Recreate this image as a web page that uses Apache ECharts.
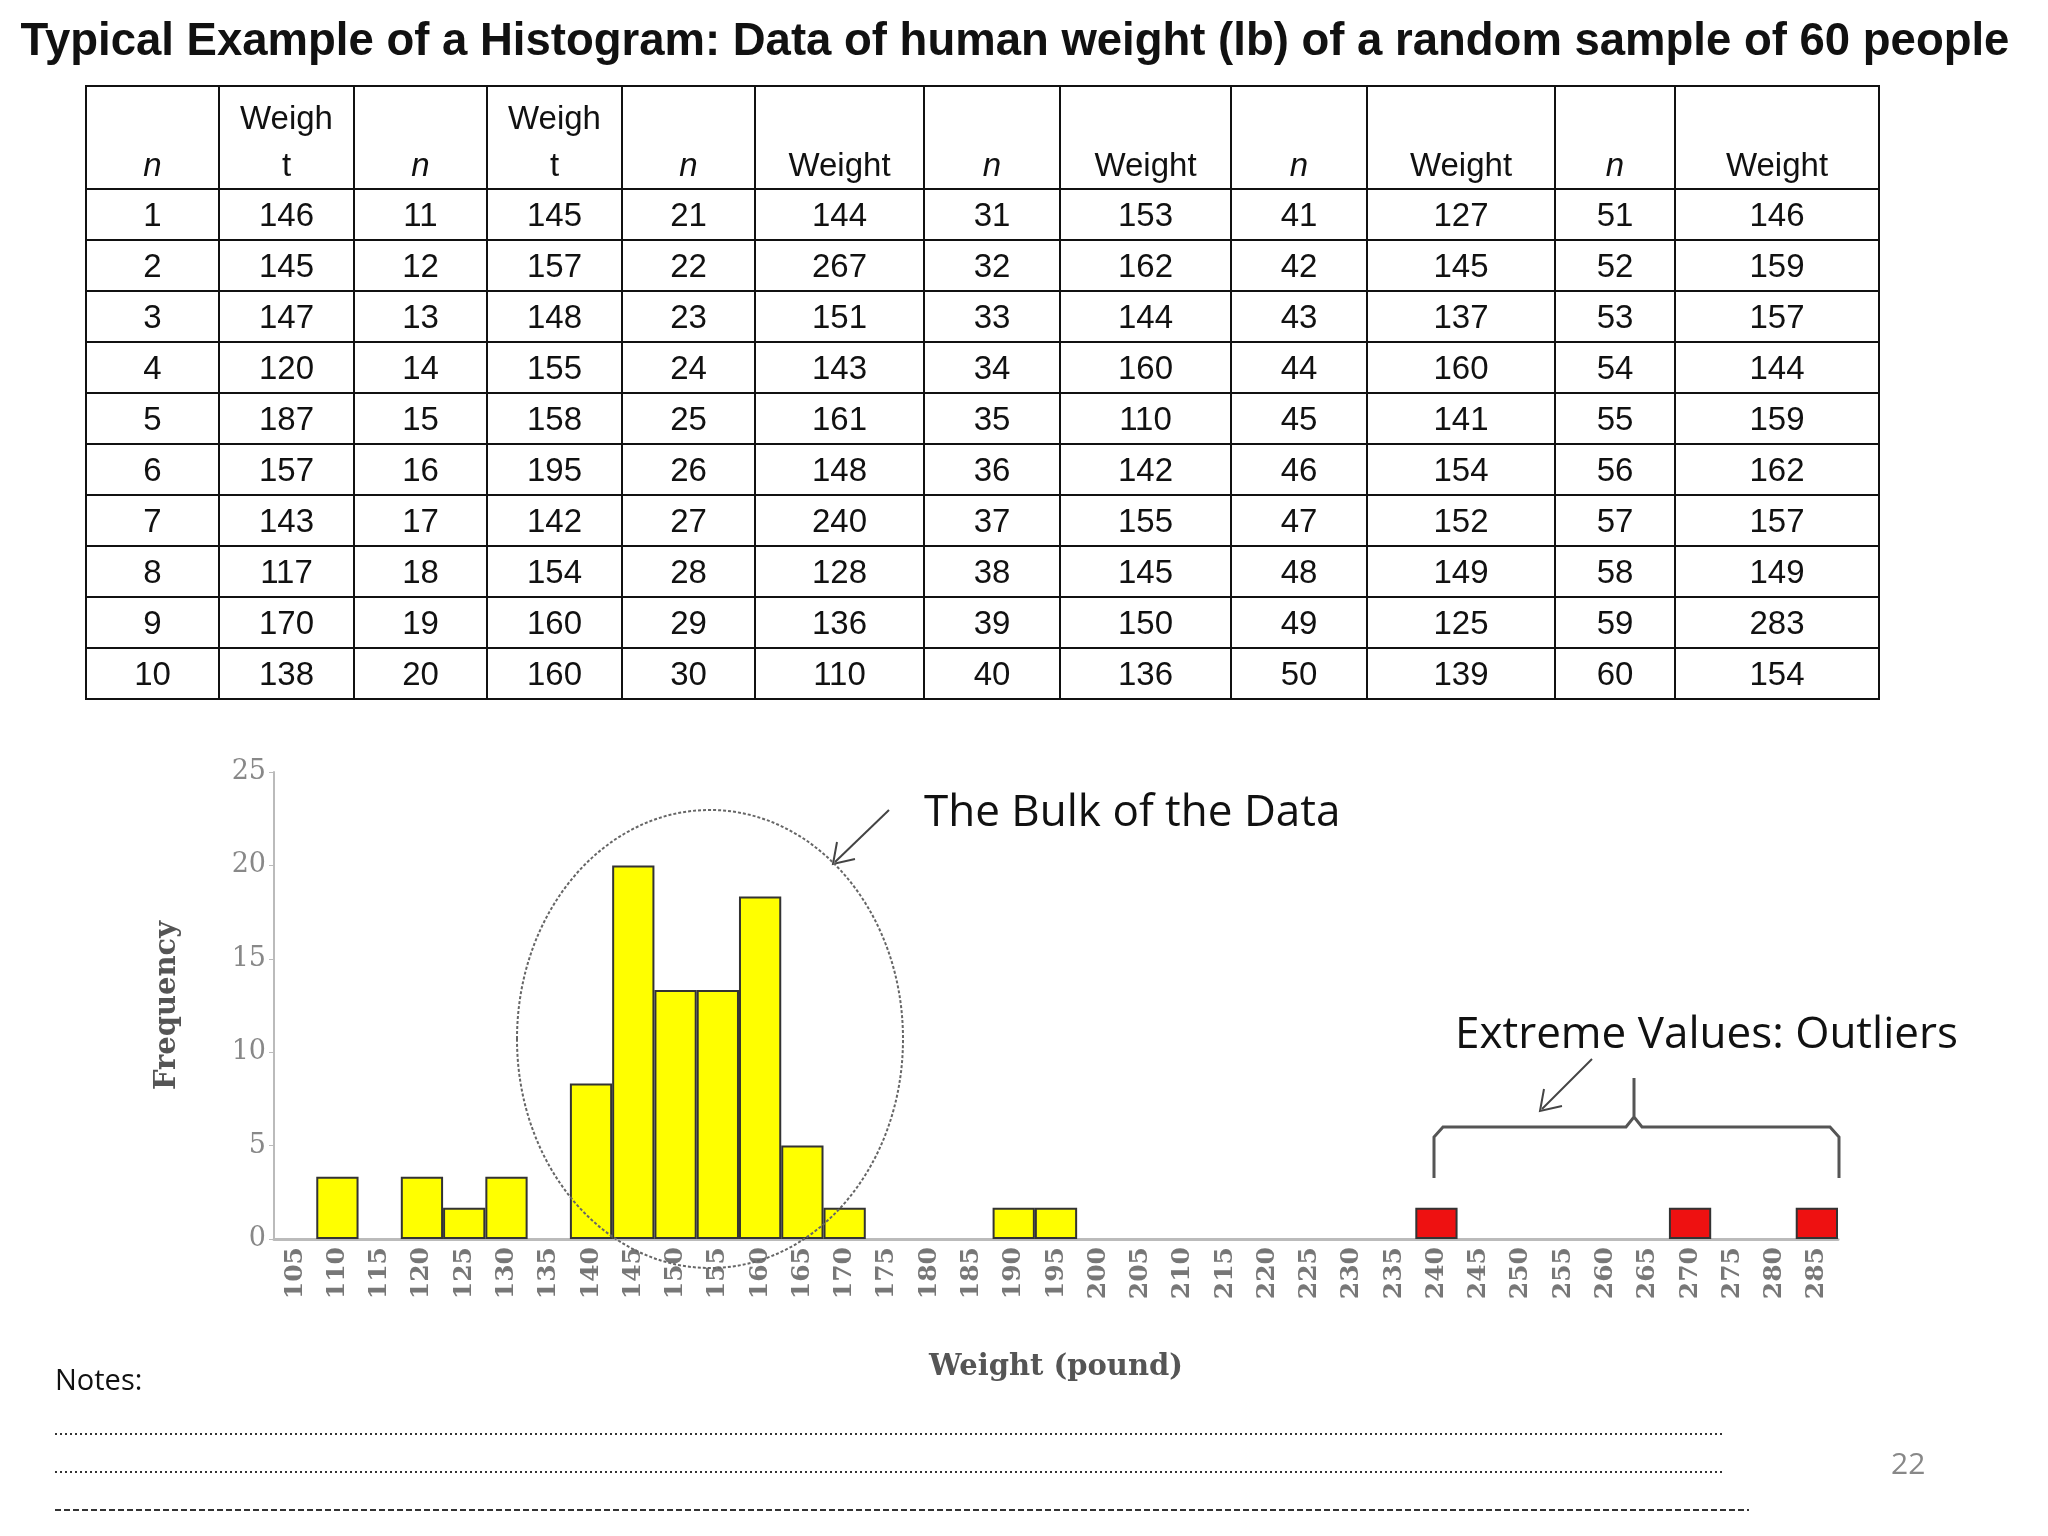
<!DOCTYPE html>
<html lang="en">
<head>
<meta charset="UTF-8">
<title>Histogram</title>
<script src="https://cdn.jsdelivr.net/npm/echarts@6/dist/echarts.min.js"></script>
<style>
  body { margin: 0; background: #fff; }
  #main { position: absolute; left: 0; top: 0; width: 2048px; height: 1536px; }
  #ttl { position: absolute; left: 0; top: 14px; width: 2030px; text-align: center;
         font: bold 45.5px "Liberation Sans", Arial, sans-serif; color: #111; }
  #tbl { position: absolute; left: 85px; top: 85px; border-collapse: collapse; table-layout: fixed;
         font: 33px "Liberation Sans", Arial, sans-serif; color: #111; }
  #tbl td, #tbl th { border: 2px solid #111; text-align: center; padding: 0; height: 49px; font-weight: normal; }
  #tbl th { height: 101px; vertical-align: bottom; line-height: 47px; }
  #tbl th.n { font-style: italic; }
</style>
</head>
<body>
<div id="main"></div>
<div id="ttl">Typical Example of a Histogram: Data of human weight (lb) of a random sample of 60 people</div>
<table id="tbl"></table>
<script>
// table data: six groups of ten people
var colWeights1 = [146, 145, 147, 120, 187, 157, 143, 117, 170, 138];
var colWeights2 = [145, 157, 148, 155, 158, 195, 142, 154, 160, 160];
var colWeights3 = [144, 267, 151, 143, 161, 148, 240, 128, 136, 110];
var colWeights4 = [153, 162, 144, 160, 110, 142, 155, 145, 150, 136];
var colWeights5 = [127, 145, 137, 160, 141, 154, 152, 149, 125, 139];
var colWeights6 = [146, 159, 157, 144, 159, 162, 157, 149, 283, 154];
var weightHeads = ['Weigh<br>t', 'Weigh<br>t', 'Weight', 'Weight', 'Weight', 'Weight'];
var colWidths = [133, 135, 133, 135, 133, 169, 136, 171, 136, 188, 120, 204];

// histogram data
var bins = [];
for (var b = 105; b <= 285; b += 5) bins.push(String(b));
var freqs = {110: 3.33, 120: 3.33, 125: 1.67, 130: 3.33, 140: 8.33, 145: 20, 150: 13.33,
             155: 13.33, 160: 18.33, 165: 5, 170: 1.67, 190: 1.67, 195: 1.67,
             240: 1.67, 270: 1.67, 285: 1.67};
var outlierBins = ['240', '270', '285'];
var yTicks = [0, 5, 10, 15, 20, 25];

// build table
var groups = [colWeights1, colWeights2, colWeights3, colWeights4, colWeights5, colWeights6];
var html = '<colgroup>';
colWidths.forEach(function (w) { html += '<col style="width:' + w + 'px">'; });
html += '</colgroup><tr>';
groups.forEach(function (g, i) { html += '<th class="n">n</th><th>' + weightHeads[i] + '</th>'; });
html += '</tr>';
for (var r = 0; r < 10; r++) {
  html += '<tr>';
  groups.forEach(function (g, i) { html += '<td>' + (i * 10 + r + 1) + '</td><td>' + g[r] + '</td>'; });
  html += '</tr>';
}
document.getElementById('tbl').innerHTML = html;

var serif = '"DejaVu Serif", "Liberation Serif", serif';
var barData = bins.map(function (c) {
  var v = freqs[c];
  if (v === undefined) return '-';
  return { value: v, itemStyle: { color: outlierBins.indexOf(c) >= 0 ? '#ee1111' : '#ffff00' } };
});

var chart = echarts.init(document.getElementById('main'));
chart.setOption({
  animation: false,
  grid: { left: 274, right: 210, top: 772, bottom: 297 },
  xAxis: {
    type: 'category', data: bins,
    name: 'Weight (pound)', nameLocation: 'middle', nameGap: 114,
    nameTextStyle: { fontFamily: serif, fontWeight: 'bold', fontSize: 29, color: '#555' },
    axisLine: { lineStyle: { color: '#bbb', width: 3 } },
    axisTick: { alignWithLabel: true, lineStyle: { color: '#bbb', width: 2 }, length: 10 },
    axisLabel: { rotate: 90, interval: 0, fontFamily: serif, fontWeight: 'bold', fontSize: 25, color: '#777' }
  },
  yAxis: {
    type: 'value', min: 0, max: 25, interval: 5,
    name: 'Frequency', nameLocation: 'middle', nameGap: 92,
    nameTextStyle: { fontFamily: serif, fontWeight: 'bold', fontSize: 29, color: '#555' },
    splitLine: { show: false },
    axisLine: { show: true, lineStyle: { color: '#bbb', width: 2 } },
    axisTick: { show: true, lineStyle: { color: '#bbb' } },
    axisLabel: { fontFamily: serif, fontSize: 27, color: '#888',
      formatter: function (v) { return yTicks.indexOf(v) >= 0 ? v : ''; } }
  },
  series: [{
    type: 'bar', data: barData, barCategoryGap: 0,
    itemStyle: { borderColor: '#333', borderWidth: 2 }
  }],
  graphic: [
    { type: 'ellipse', shape: { cx: 710, cy: 1039, rx: 193, ry: 229 },
      style: { fill: 'none', stroke: '#666', lineWidth: 2, lineDash: [3, 2] }, z: 10 },
    { type: 'text', left: 924, top: 791, style: { text: 'The Bulk of the Data', font: '44px "Open Sans", sans-serif', fill: '#111' } },
    { type: 'line', shape: { x1: 889, y1: 810, x2: 835, y2: 862 }, style: { stroke: '#444', lineWidth: 2 } },
    { type: 'polyline', shape: { points: [[837, 842], [833, 864], [855, 859]] }, style: { stroke: '#444', fill: 'none', lineWidth: 2 } },
    { type: 'text', left: 1455, top: 1013, style: { text: 'Extreme Values: Outliers', font: '44px "Open Sans", sans-serif', fill: '#111' } },
    { type: 'line', shape: { x1: 1592, y1: 1059, x2: 1542, y2: 1109 }, style: { stroke: '#444', lineWidth: 2 } },
    { type: 'polyline', shape: { points: [[1544, 1089], [1540, 1111], [1562, 1106]] }, style: { stroke: '#444', fill: 'none', lineWidth: 2 } },
    { type: 'polyline', shape: { points: [[1434, 1178], [1434, 1137], [1443, 1127], [1626, 1127], [1634, 1117], [1634, 1078],
        [1634, 1117], [1642, 1127], [1830, 1127], [1839, 1137], [1839, 1178]] },
      style: { stroke: '#555', fill: 'none', lineWidth: 3 } },
    { type: 'text', left: 55, top: 1367, style: { text: 'Notes:', font: '29px "Open Sans", sans-serif', fill: '#111' } },
    { type: 'line', shape: { x1: 55, y1: 1434, x2: 1723, y2: 1434 }, style: { stroke: '#333', lineWidth: 2, lineDash: [2, 3] } },
    { type: 'line', shape: { x1: 55, y1: 1472, x2: 1723, y2: 1472 }, style: { stroke: '#333', lineWidth: 2, lineDash: [2, 3] } },
    { type: 'line', shape: { x1: 55, y1: 1510, x2: 1749, y2: 1510 }, style: { stroke: '#333', lineWidth: 2, lineDash: [6, 3] } },
    { type: 'text', left: 1891, top: 1450, style: { text: '22', font: '30px "Open Sans", sans-serif', fill: '#888' } }
  ]
});
</script>
</body>
</html>
